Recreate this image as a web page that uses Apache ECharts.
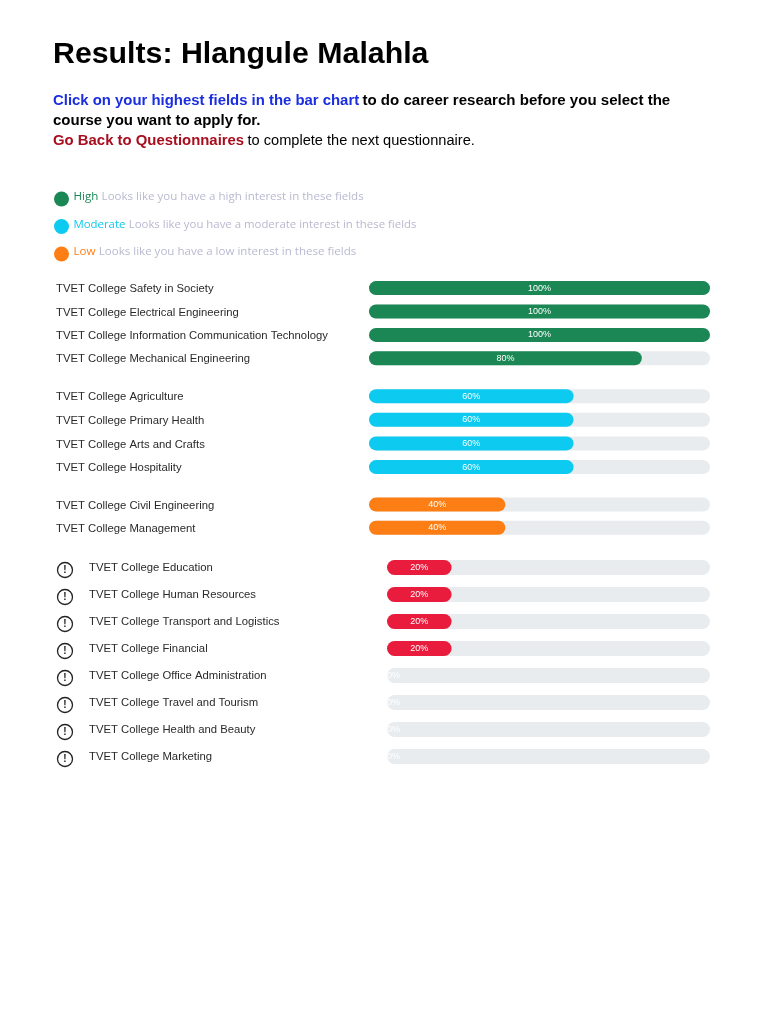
<!DOCTYPE html>
<html><head><meta charset="utf-8">
<style>html,body{margin:0;padding:0;background:#fff}#c{width:768px;height:1024px}</style>
<script src="https://cdn.jsdelivr.net/npm/echarts@6/dist/echarts.min.js"></script>
</head><body><div id="c"></div>
<script>
const highCats=["TVET College Safety in Society","TVET College Electrical Engineering","TVET College Information Communication Technology","TVET College Mechanical Engineering"];
const highVals=[100,100,100,80];
const modCats=["TVET College Agriculture","TVET College Primary Health","TVET College Arts and Crafts","TVET College Hospitality"];
const modVals=[60,60,60,60];
const lowCats=["TVET College Civil Engineering","TVET College Management"];
const lowVals=[40,40];
const otherCats=["TVET College Education","TVET College Human Resources","TVET College Transport and Logistics","TVET College Financial","TVET College Office Administration","TVET College Travel and Tourism","TVET College Health and Beauty","TVET College Marketing"];
const otherVals=[20,20,20,20,0,0,0,0];
const legendNames=["High","Moderate","Low"];
const legendNotes=["Looks like you have a high interest in these fields","Looks like you have a moderate interest in these fields","Looks like you have a low interest in these fields"];

const GREEN='#1a8754',CYAN='#0dcaf0',ORANGE='#fd7e14',RED='#e91c3d',TRACK='#e9ecef';
const SANS='"Liberation Sans",Arial,sans-serif';
const groups=[
 {name:'High',cats:highCats,vals:highVals,color:GREEN,top:276.4,height:93.6,left:369,width:341,bw:14},
 {name:'Moderate',cats:modCats,vals:modVals,color:CYAN,top:384.3,height:94.6,left:369,width:341,bw:14},
 {name:'Low',cats:lowCats,vals:lowVals,color:ORANGE,top:493,height:46.4,left:369,width:341,bw:14},
 {name:'Other',cats:otherCats,vals:otherVals,color:RED,top:554,height:216,left:387,width:323,bw:15}
];
const legendColors=[GREEN,CYAN,ORANGE],legendY=[196,223.5,251],legendSize=[11.55,11.4,11.55];
const graphic=[
 {type:'text',x:53,y:40,style:{text:'Results: Hlangule Malahla',font:'bold 30.3px '+SANS,fill:'#000'}},
 {type:'text',x:53,y:93,style:{text:'{a|Click on your highest fields in the bar chart} {b|to do career research before you select the}',rich:{a:{font:'bold 14.9px '+SANS,fill:'#1a2ee0'},b:{font:'bold 15.05px '+SANS,fill:'#000'}}}},
 {type:'text',x:53,y:113,style:{text:'course you want to apply for.',font:'bold 15px '+SANS,fill:'#000'}},
 {type:'text',x:53,y:133,style:{text:'{a|Go Back to Questionnaires} {b|to complete the next questionnaire.}',rich:{a:{font:'bold 14.9px '+SANS,fill:'#a80d1e'},b:{font:'14.62px '+SANS,fill:'#000'}}}}
];
legendNames.forEach((n,i)=>{
 const y=legendY[i],s=legendSize[i]+'px "Open Sans"';
 graphic.push({type:'circle',shape:{cx:61.5,cy:y+3,r:7.5},style:{fill:legendColors[i]}});
 graphic.push({type:'text',x:73.5,y:y-5,style:{text:'{a|'+n+'} {b|'+legendNotes[i]+'}',rich:{a:{font:s,fill:legendColors[i]},b:{font:s,fill:'#b9b9d0'}}}});
});
otherCats.forEach((c,i)=>{
 const cy=570+27*i;
 graphic.push({type:'circle',shape:{cx:65,cy:cy,r:7.5},style:{fill:'#fff',stroke:'#222',lineWidth:1.3}});
 graphic.push({type:'text',x:65,y:cy,style:{text:'!',font:'bold 10px '+SANS,fill:'#222',align:'center',verticalAlign:'middle'}});
});
const option={animation:false,backgroundColor:'#fff',graphic:graphic,
 grid:groups.map(g=>({left:g.left,width:g.width,top:g.top,height:g.height})),
 xAxis:groups.map((g,i)=>({type:'value',gridIndex:i,min:0,max:100,show:false})),
 yAxis:groups.map((g,i)=>({type:'category',gridIndex:i,inverse:true,data:g.cats,
   axisLine:{show:false},axisTick:{show:false},
   axisLabel:{align:'left',margin:i===3?298:313,interval:0,
     formatter:v=>'{t|'+v+'}',
     rich:{t:{fontFamily:SANS,fontSize:11.3,color:'#2a2a2a',padding:i===3?0:[2,0,0,0]}}}})),
 series:groups.map((g,i)=>({type:'bar',name:g.name,xAxisIndex:i,yAxisIndex:i,barWidth:g.bw,
   data:g.vals.map(v=>({value:v,label:v===0?{position:'insideLeft',distance:0}:undefined})),
   itemStyle:{color:g.color,borderRadius:7.5},
   showBackground:true,backgroundStyle:{color:TRACK,borderRadius:7.5},
   label:{show:true,position:'inside',formatter:'{c}%',fontFamily:SANS,fontSize:9,color:'#fff'}}))
};
echarts.init(document.getElementById('c'),null,{renderer:'canvas'}).setOption(option);
</script></body></html>
